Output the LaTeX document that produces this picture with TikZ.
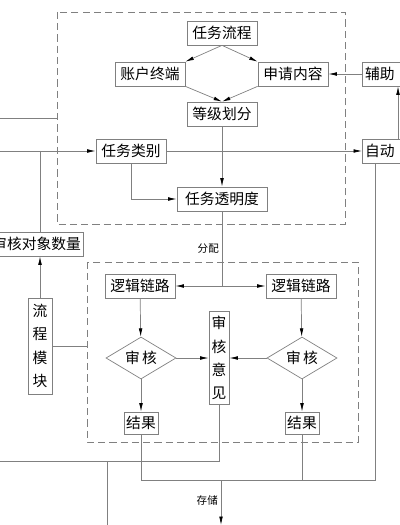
\documentclass[tikz,border=0pt]{standalone}
\usepackage{fontspec}
\newfontfamily\cjk{Noto Sans CJK SC}
\usetikzlibrary{shapes.geometric,arrows.meta}

\tikzset{
  box/.style={draw=gray, minimum width=1.75cm, minimum height=0.6cm, inner sep=1pt,
    font={\cjk\fontsize{10.5}{12}\selectfont}},
  vbox/.style={draw=gray, inner sep=1pt, align=center,
    font={\cjk\fontsize{10.5}{16.5}\selectfont}},
  check/.style={draw=gray, diamond, aspect=1.6, inner sep=0pt, minimum width=1.75cm,
    minimum height=1.05cm, font={\cjk\fontsize{10.5}{12}\selectfont}},
  lbl/.style={font={\cjk\fontsize{7.5}{9}\selectfont}, inner sep=2pt},
  arr/.style={-{Latex[length=6pt,width=2.6pt,color=black]}},
  frame/.style={draw=gray, dash pattern=on 5pt off 3pt}
}

\begin{document}
\begin{tikzpicture}[x=0.025cm, y=-0.025cm, draw=gray, line width=0.5pt]
    \useasboundingbox (0,0) rectangle (400,525);
    \clip (0,0) rectangle (400,525);

    % upper frame
    \draw[frame] (57,12) rectangle (345,224);
    \node[box] (liucheng) at (222,33) {任务流程};
    \node[box] (zhanghu) at (150,74) {账户终端};
    \node[box] (shenqing) at (293,74) {申请内容};
    \node[box] (dengji) at (222,114) {等级划分};
    \node[box] (leibie) at (131,151) {任务类别};
    \node[box, minimum width=2.25cm] (touming) at (222,199) {任务透明度};
    \node[box, text width=1.8cm, align=left, inner xsep=2pt, anchor=west] (fuzhu) at (362,74) {辅助};
    \node[box, text width=1.8cm, align=left, inner xsep=2pt, anchor=west] (zidong) at (362,151) {自动};
    \node[box, minimum width=0pt, inner xsep=2pt, anchor=east] (shuliang) at (84,244) {审核对象数量};

    \draw[arr] (liucheng.south) -- (zhanghu.north east);
    \draw[arr] (liucheng.south) -- (shenqing.north west);
    \draw[arr] (zhanghu.south east) -- (dengji.north);
    \draw[arr] (shenqing.south west) -- (dengji.north);
    \draw[arr] (fuzhu) -- (shenqing);
    \coordinate (r1) at (398,151);
    \draw[arr] (r1 |- zidong.north) -- (r1 |- fuzhu.south);

    \coordinate (inA) at (0,151);
    \coordinate (inB) at (0,118);
    \coordinate (edgeB) at (57,118);
    \coordinate (j1) at (40,151);
    \draw[arr] (inA) -- (leibie);
    \draw[arr] (leibie) -- (zidong);
    \draw (inB) -- (edgeB);
    \draw (j1) -- (j1 |- shuliang.north);
    \draw[arr] (dengji) -- (touming);
    \draw[arr] (leibie.south) |- (touming.west);

    % lower frame
    \draw[frame] (87,262) rectangle (358,442);
    \node[box] (luoji1) at (140,286) {逻辑链路};
    \node[box] (luoji2) at (301,286) {逻辑链路};
    \node[check] (shenhe1) at (141,358) {审\,核};
    \node[check] (shenhe2) at (302,358) {审\,核};
    \node[vbox, minimum width=0.5cm, minimum height=2.33cm] (yijian) at (219,358) {审\\核\\意\\见};
    \node[box, minimum width=0.85cm, minimum height=0.55cm] (jieguo1) at (141,423) {结果};
    \node[box, minimum width=0.85cm, minimum height=0.55cm] (jieguo2) at (302,423) {结果};
    \node[vbox, minimum width=0.6cm, minimum height=2.4cm] (mokuai) at (40,346) {流\\程\\模\\块};

    \coordinate (fp) at (222,286);
    \draw (touming) -- (fp) node[lbl, midway, left] {分配};
    \draw[arr] (fp) -- (luoji1);
    \draw[arr] (fp) -- (luoji2);
    \draw[arr] (luoji1) -- (shenhe1);
    \draw[arr] (luoji2) -- (shenhe2);
    \draw[arr] (shenhe1) -- (jieguo1);
    \draw[arr] (shenhe2) -- (jieguo2);
    \draw[arr] (shenhe1) -- (yijian);
    \draw[arr] (shenhe2) -- (yijian);
    \draw[arr] (mokuai) -- (shuliang.south -| mokuai);
    \coordinate (edgeC) at (87,346);
    \draw (mokuai) -- (edgeC);

    % outputs
    \coordinate (outL) at (0,461);
    \coordinate (d1) at (107,461);
    \coordinate (d1b) at (107,525);
    \draw (yijian.south) |- (outL);
    \draw (d1) -- (d1b);
    \coordinate (cun) at (221,480);
    \coordinate (cunb) at (221,525);
    \coordinate (r2) at (375,480);
    \draw (jieguo1) |- (r2) -- (r2 |- zidong.south);
    \draw (jieguo2) -- (jieguo2 |- r2);
    \draw[arr] (cun) -- (cunb) node[lbl, pos=0.45, left] {存储};
\end{tikzpicture}
\end{document}
